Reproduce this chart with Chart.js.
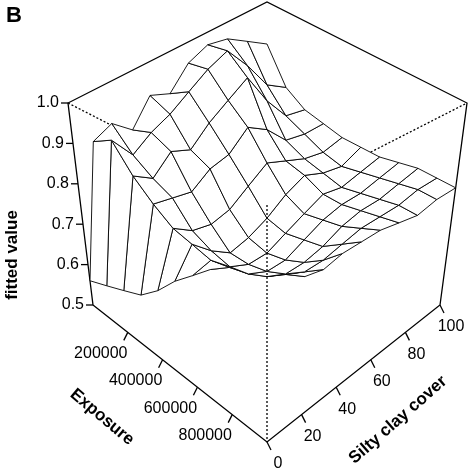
<!DOCTYPE html><html><head><meta charset="utf-8">
<script src="https://cdn.jsdelivr.net/npm/chart.js@4"></script>
<style>html,body{margin:0;padding:0;background:#fff}</style></head><body>
<canvas id="c" width="474" height="474"></canvas>
<script>
// Estimated fitted values: rows = exposure 0..1e6 (step 1e5), cols = silty clay cover 0..100 (step 10)
const exposureSteps = [0,100000,200000,300000,400000,500000,600000,700000,800000,900000,1000000];
const claySteps = [0,10,20,30,40,50,60,70,80,90,100];
const fitted = [
 [.56,.88,.90,.86,.92,.90,.95,.97,.96,.93,.90],
 [.58,.91,.85,.88,.90,.93,.96,.98,.92,.85,.82],
 [.60,.85,.82,.86,.84,.88,.91,.94,.86,.80,.79],
 [.62,.81,.80,.79,.82,.83,.87,.84,.79,.78,.78],
 [.66,.78,.75,.74,.75,.78,.81,.79,.77,.76,.77],
 [.71,.77,.73,.70,.71,.73,.76,.78,.76,.75,.77],
 [.75,.76,.72,.70,.70,.72,.74,.76,.75,.76,.77],
 [.79,.77,.73,.71,.71,.73,.75,.76,.76,.77,.78],
 [.83,.79,.75,.73,.73,.74,.76,.77,.77,.78,.79],
 [.86,.81,.78,.76,.76,.77,.78,.78,.78,.79,.79],
 [.90,.84,.80,.79,.80,.80,.80,.79,.78,.79,.79]
];
const zTicks = [0.5,0.6,0.7,0.8,0.9,1.0];
const exposureTicks = [200000,400000,600000,800000];
const clayTicks = [0,20,40,60,80,100];

// box corners (bottom z=0.5, top z=1.0), keyed e,c
const BOT={e0c0:{x:93,y:305},e1c0:{x:267,y:442},e1c1:{x:440,y:305},e0c1:{x:267,y:212}};
const TOP={e0c0:{x:68,y:103},e1c0:{x:267,y:205},e1c1:{x:467,y:103},e0c1:{x:267,y:2}};
function bil(S,e,c,k){return (1-e)*(1-c)*S.e0c0[k]+e*(1-c)*S.e1c0[k]+e*c*S.e1c1[k]+(1-e)*c*S.e0c1[k];}
function proj(e,c,z){const t=(z-0.5)/0.5;
  return {x:(1-t)*bil(BOT,e,c,'x')+t*bil(TOP,e,c,'x'), y:(1-t)*bil(BOT,e,c,'y')+t*bil(TOP,e,c,'y')};}
const ds=[];
function line(pts,dash,w){ds.push({data:pts,showLine:true,borderColor:'#000',borderWidth:w||1.3,borderDash:dash||[],pointRadius:0,fill:false});}
const dot=[2,2];
line([proj(1,0,1),proj(1,0,0.5)],dot);
const ne=exposureSteps.length-1, nc=claySteps.length-1;
const quads=[];
for(let i=0;i<ne;i++)for(let j=0;j<nc;j++){
  const e0=exposureSteps[i]/1e6,e1=exposureSteps[i+1]/1e6,c0=claySteps[j]/100,c1=claySteps[j+1]/100;
  quads.push({d:(e0+e1)/2-(c0+c1)/2,pts:[proj(e0,c0,fitted[i][j]),proj(e0,c1,fitted[i][j+1]),proj(e1,c1,fitted[i+1][j+1]),proj(e1,c0,fitted[i+1][j]),proj(e0,c0,fitted[i][j])]});
}
quads.sort((a,b)=>a.d-b.d);
quads.forEach(q=>ds.push({data:q.pts,quad:true,showLine:true,borderColor:'#000',borderWidth:0.9,pointRadius:0,fill:false}));
line([proj(0,0,1),proj(1,0,1),proj(1,1,1)],dot);
line([proj(0,0,0.5),proj(0,0,1),proj(0,1,1),proj(1,1,1),proj(1,1,0.5),proj(1,0,0.5),proj(0,0,0.5)]);
zTicks.forEach(z=>{const p=proj(0,0,z);line([p,{x:p.x-7,y:p.y}]);});
exposureTicks.forEach(v=>{const p=proj(v/1e6,0,0.5);line([p,{x:p.x-4,y:p.y+8}]);});
clayTicks.forEach(v=>{const p=proj(1,v/100,0.5);line([p,{x:p.x+4,y:p.y+8}]);});

const fillPlugin={id:'fillq',beforeDatasetDraw(chart,args){
  const d=chart.data.datasets[args.index]; if(!d.quad)return;
  const m=chart.getDatasetMeta(args.index).data, ctx=chart.ctx;
  ctx.save();ctx.beginPath();m.forEach((p,k)=>k?ctx.lineTo(p.x,p.y):ctx.moveTo(p.x,p.y));ctx.closePath();ctx.fillStyle='#fff';ctx.fill();ctx.restore();
}};
const textPlugin={id:'txt',afterDraw(chart){
  const ctx=chart.ctx, sx=chart.scales.x, sy=chart.scales.y;
  const P=p=>({x:sx.getPixelForValue(p.x),y:sy.getPixelForValue(p.y)});
  ctx.save();ctx.fillStyle='#000';ctx.font='16px Liberation Sans, Arial';ctx.textBaseline='middle';
  ctx.textAlign='right';
  zTicks.forEach(z=>{const p=P(proj(0,0,z));ctx.fillText(z.toFixed(1),p.x-9,p.y);});
  ctx.textAlign='center';
  exposureTicks.forEach(v=>{const p=P(proj(v/1e6,0,0.5));ctx.fillText(String(v),p.x-27,p.y+21);});
  clayTicks.forEach(v=>{const p=P(proj(1,v/100,0.5));ctx.fillText(String(v),p.x+11,p.y+22);});
  ctx.font='bold 17px Liberation Sans, Arial';
  ctx.save();ctx.translate(12,255);ctx.rotate(-Math.PI/2);ctx.fillText('fitted value',0,0);ctx.restore();
  ctx.save();ctx.translate(102,417);ctx.rotate(0.7);ctx.fillText('Exposure',0,0);ctx.restore();
  ctx.save();ctx.translate(398,420);ctx.rotate(-0.72);ctx.fillText('Silty clay cover',0,0);ctx.restore();
  ctx.font='bold 22px Liberation Sans, Arial';ctx.textAlign='left';ctx.fillText('B',6,16);
  ctx.restore();
}};
new Chart(document.getElementById('c'),{type:'scatter',data:{datasets:ds},plugins:[fillPlugin,textPlugin],
 options:{responsive:false,animation:false,layout:{padding:0},plugins:{legend:{display:false},tooltip:{enabled:false}},
 scales:{x:{type:'linear',min:0,max:474,display:false},y:{type:'linear',min:0,max:474,reverse:true,display:false}}}});
</script></body></html>
